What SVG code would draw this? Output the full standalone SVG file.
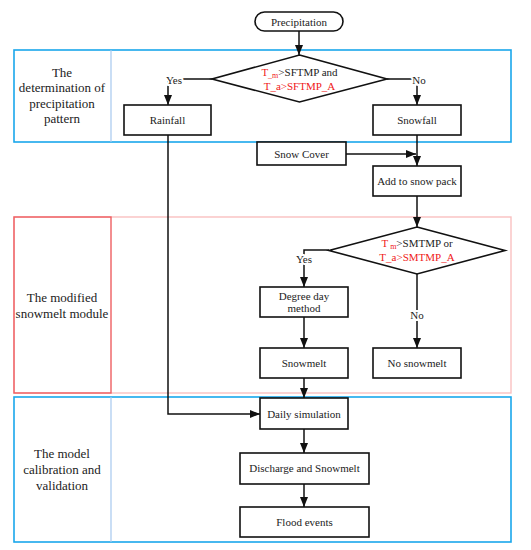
<svg xmlns="http://www.w3.org/2000/svg" width="531" height="550" viewBox="0 0 531 550" font-family="'Liberation Serif', 'Times New Roman', 'DejaVu Serif', serif">
<style>
text{font-family:'Liberation Serif','Times New Roman','DejaVu Serif',serif;fill:#222;}
.t{font-size:11px;text-anchor:middle;}
.lab{font-size:13px;text-anchor:middle;}
.box{fill:#fff;stroke:#111;stroke-width:1.6;}
.con{fill:none;stroke:#111;stroke-width:1.5;}
.r{fill:#f01818;}
.halo{paint-order:stroke;stroke:#fff;stroke-width:4;stroke-linejoin:round;}
</style>
<defs>
<marker id="ah" markerUnits="userSpaceOnUse" markerWidth="10" markerHeight="10" viewBox="0 0 10 10" refX="10" refY="5" orient="auto">
<path d="M0,1 L10,5 L0,9 Z" fill="#111"/>
</marker>
</defs>
<rect width="531" height="550" fill="#fff"/>
<g id="sections">
<rect x="14" y="50" width="497" height="92" fill="none" stroke="#1aa7ec" stroke-width="1.6"/>
<line x1="111" y1="50" x2="111" y2="142" stroke="#a6c8ee" stroke-width="1.2"/>
<rect x="14" y="217" width="497" height="176" fill="none" stroke="#f9c0c0" stroke-width="1.4"/>
<rect x="14" y="217" width="97" height="176" fill="none" stroke="#ee5f62" stroke-width="1.4"/>
<rect x="14" y="397" width="497" height="145" fill="none" stroke="#1aa7ec" stroke-width="1.6"/>
<line x1="111" y1="397" x2="111" y2="542" stroke="#a6c8ee" stroke-width="1.2"/>
<text class="lab" x="62" y="76.5">The</text>
<text class="lab" x="62" y="92">determination of</text>
<text class="lab" x="62" y="107.5">precipitation</text>
<text class="lab" x="62" y="123">pattern</text>
<text class="lab" x="62" y="301.5">The modified</text>
<text class="lab" x="62" y="317.5">snowmelt module</text>
<text class="lab" x="62" y="457.5">The model</text>
<text class="lab" x="62" y="473.5">calibration and</text>
<text class="lab" x="62" y="489.5">validation</text>
</g>
<g id="connectors">
<path class="con" d="M299,31 V55" marker-end="url(#ah)"/>
<path class="con" d="M212,79 H168 V105" marker-end="url(#ah)"/>
<path class="con" d="M387,79 H417 V105" marker-end="url(#ah)"/>
<path class="con" d="M417,135 V166" marker-end="url(#ah)"/>
<path class="con" d="M346,154 H416" marker-end="url(#ah)"/>
<path class="con" d="M417,196 V227" marker-end="url(#ah)"/>
<path class="con" d="M329,250 H304 V287" marker-end="url(#ah)"/>
<path class="con" d="M304,317 V348" marker-end="url(#ah)"/>
<path class="con" d="M417,274 V348" marker-end="url(#ah)"/>
<path class="con" d="M304,378 V398" marker-end="url(#ah)"/>
<path class="con" d="M168,135 V414 H260" marker-end="url(#ah)"/>
<path class="con" d="M304,429 V453" marker-end="url(#ah)"/>
<path class="con" d="M304,484 V507" marker-end="url(#ah)"/>
<text class="t halo" x="174" y="84">Yes</text>
<text class="t halo" x="419" y="84">No</text>
<text class="t halo" x="304" y="263">Yes</text>
<text class="t halo" x="417" y="319">No</text>
</g>
<g id="precipitation">
<rect class="box" x="255" y="12" width="88" height="19" rx="9.5"/>
<text class="t" x="299" y="26">Precipitation</text>
</g>
<g id="decision1">
<polygon class="box" points="299.5,55 387,79 299.5,102 212,79"/>
<text class="t" x="299.5" y="76"><tspan class="r">T</tspan><tspan class="r" font-size="8" dy="2">_m</tspan><tspan dy="-2">&gt;SFTMP and</tspan></text>
<text class="t" x="299.5" y="90"><tspan class="r">T_a&gt;SFTMP_A</tspan></text>
</g>
<g id="rainfall">
<rect class="box" x="124" y="105" width="87" height="30"/>
<text class="t" x="167.5" y="124">Rainfall</text>
</g>
<g id="snowfall">
<rect class="box" x="373" y="105" width="88" height="30"/>
<text class="t" x="417" y="124">Snowfall</text>
</g>
<g id="snowcover">
<rect class="box" x="257" y="142" width="89" height="23"/>
<text class="t" x="301.5" y="158">Snow Cover</text>
</g>
<g id="addsnowpack">
<rect class="box" x="373" y="166" width="88" height="30"/>
<text class="t" x="417" y="185">Add to snow pack</text>
</g>
<g id="decision2">
<polygon class="box" points="417,227 505,250.5 417,274 329,250.5"/>
<text class="t" x="417" y="247"><tspan class="r">T</tspan><tspan class="r" font-size="8" dx="2" dy="2">m</tspan><tspan dy="-2">&gt;SMTMP or</tspan></text>
<text class="t" x="417" y="261"><tspan class="r">T_a&gt;SMTMP_A</tspan></text>
</g>
<g id="degreeday">
<rect class="box" x="260" y="287" width="88" height="30"/>
<text class="t" x="304" y="299.5">Degree day</text>
<text class="t" x="304" y="312">method</text>
</g>
<g id="snowmelt">
<rect class="box" x="260" y="348" width="88" height="30"/>
<text class="t" x="304" y="367">Snowmelt</text>
</g>
<g id="nosnowmelt">
<rect class="box" x="373" y="348" width="88" height="30"/>
<text class="t" x="417" y="367">No snowmelt</text>
</g>
<g id="dailysim">
<rect class="box" x="260" y="398" width="88" height="31"/>
<text class="t" x="304" y="418">Daily simulation</text>
</g>
<g id="discharge">
<rect class="box" x="240" y="453" width="129" height="31"/>
<text class="t" x="304.5" y="472">Discharge and Snowmelt</text>
</g>
<g id="flood">
<rect class="box" x="240" y="507" width="129" height="30"/>
<text class="t" x="304.5" y="526">Flood events</text>
</g>
</svg>
